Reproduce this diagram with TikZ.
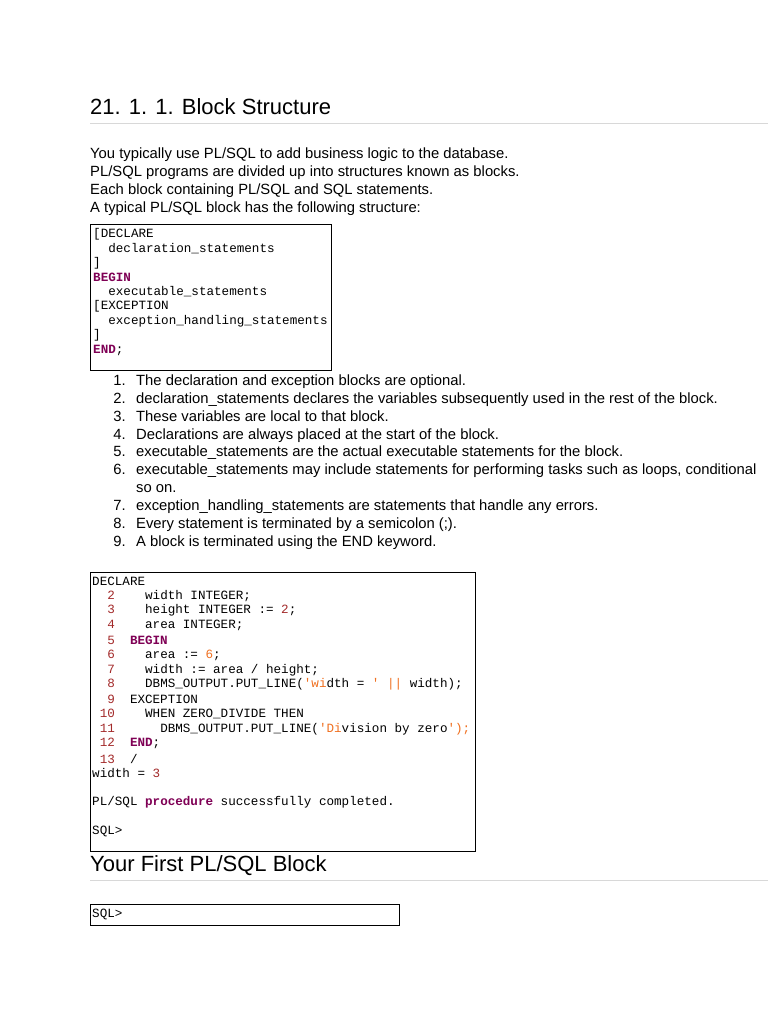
\documentclass[tikz,border=0pt]{standalone}
\usepackage{fontspec}
\setmainfont{Liberation Sans}
\newfontfamily\cmono{Liberation Mono}
\definecolor{kw}{HTML}{7F0055}
\definecolor{num}{HTML}{A32A2A}
\definecolor{str}{HTML}{F07020}
\definecolor{rule}{HTML}{D8D8D8}
\newcommand{\K}[1]{\textcolor{kw}{\bfseries #1}}
\newcommand{\N}[1]{\textcolor{num}{#1}}
\newcommand{\St}[1]{\textcolor{str}{#1}}
\begin{document}
\begin{tikzpicture}[x=1pt,y=-1pt,
  body/.style={anchor=west,inner sep=0pt,text height=10.5pt,text depth=3pt,font=\fontsize{14.8}{16}\selectfont},
  head/.style={anchor=west,inner sep=0pt,font=\fontsize{22}{24}\selectfont},
  code/.style={anchor=west,inner sep=0pt,font=\cmono\fontsize{12.6}{14}\selectfont},
  cbox/.style={draw=black,line width=0.8pt},
  hrule/.style={draw=rule,line width=0.8pt},
  num/.style={anchor=east,inner sep=0pt,text height=10.5pt,text depth=3pt,font=\fontsize{14.8}{16}\selectfont}]
\useasboundingbox[fill=white] (0,0) rectangle (768,1024);

\node[head] (h1) at (90,107) {21. 1. 1. Block Structure};
\draw[hrule] (90,123) -- (768,123);

\node[body] (p1) at (90,155) {You typically use PL/SQL to add business logic to the database.};
\node[body] (p2) at (90,173) {PL/SQL programs are divided up into structures known as blocks.};
\node[body] (p3) at (90,191) {Each block containing PL/SQL and SQL statements.};
\node[body] (p4) at (90,209) {A typical PL/SQL block has the following structure:};

\draw[cbox] (90,224) rectangle (331,370);
\node[code] (a1) at (93,234) {[DECLARE};
\node[code] (a2) at (93,248.5) {~~declaration\_statements};
\node[code] (a3) at (93,263) {]};
\node[code] (a4) at (93,277.5) {\K{BEGIN}};
\node[code] (a5) at (93,292) {~~executable\_statements};
\node[code] (a6) at (93,306.5) {[EXCEPTION};
\node[code] (a7) at (93,321) {~~exception\_handling\_statements};
\node[code] (a8) at (93,335.5) {]};
\node[code] (a9) at (93,350) {\K{END};};

\foreach \n/\y/\t in {1/382/{The declaration and exception blocks are optional.},
 2/400/{declaration\_statements declares the variables subsequently used in the rest of the block.},
 3/418/{These variables are local to that block.},
 4/436/{Declarations are always placed at the start of the block.},
 5/453/{executable\_statements are the actual executable statements for the block.},
 6/471/{executable\_statements may include statements for performing tasks such as loops, conditional},
 7/507/{exception\_handling\_statements are statements that handle any errors.},
 8/525/{Every statement is terminated by a semicolon (;).},
 9/543/{A block is terminated using the END keyword.}}{
  \node[num] (n\n) at (126,\y) {\n.};
  \node[body] (l\n) at (136,\y) {\t};
}
\node[body] (l6b) at (136,489) {so on.};

\draw[cbox] (90,572) rectangle (475,851);
\node[code] (b1) at (92,581) {DECLARE};
\node[code] (b2) at (92,595.8) {~~\N{2}~~~~width INTEGER;};
\node[code] (b3) at (92,610.6) {~~\N{3}~~~~height INTEGER := \N{2};};
\node[code] (b4) at (92,625.4) {~~\N{4}~~~~area INTEGER;};
\node[code] (b5) at (92,640.2) {~~\N{5}~~\K{BEGIN}};
\node[code] (b6) at (92,655) {~~\N{6}~~~~area := \St{6};};
\node[code] (b7) at (92,669.8) {~~\N{7}~~~~width := area / height;};
\node[code] (b8) at (92,684.6) {~~\N{8}~~~~DBMS\_OUTPUT.PUT\_LINE(\St{'wi}dth = \St{' ||} width);};
\node[code] (b9) at (92,699.4) {~~\N{9}~~EXCEPTION};
\node[code] (b10) at (92,714.2) {~\N{10}~~~~WHEN ZERO\_DIVIDE THEN};
\node[code] (b11) at (92,729) {~\N{11}~~~~~~DBMS\_OUTPUT.PUT\_LINE(\St{'Di}vision by zero\St{');}};
\node[code] (b12) at (92,743.8) {~\N{12}~~\K{END};};
\node[code] (b13) at (92,758.6) {~\N{13}~~/};
\node[code] (b14) at (92,773.4) {width = \N{3}};
\node[code] (b15) at (92,802.5) {PL/SQL \K{procedure} successfully completed.};
\node[code] (b16) at (92,831.5) {SQL>};

\node[head] (h2) at (90,866) {Your First PL/SQL Block};
\draw[hrule] (90,880) -- (768,880);

\draw[cbox] (90,904) rectangle (399,925);
\node[code] (c1) at (92,914) {SQL>};
\end{tikzpicture}
\end{document}
